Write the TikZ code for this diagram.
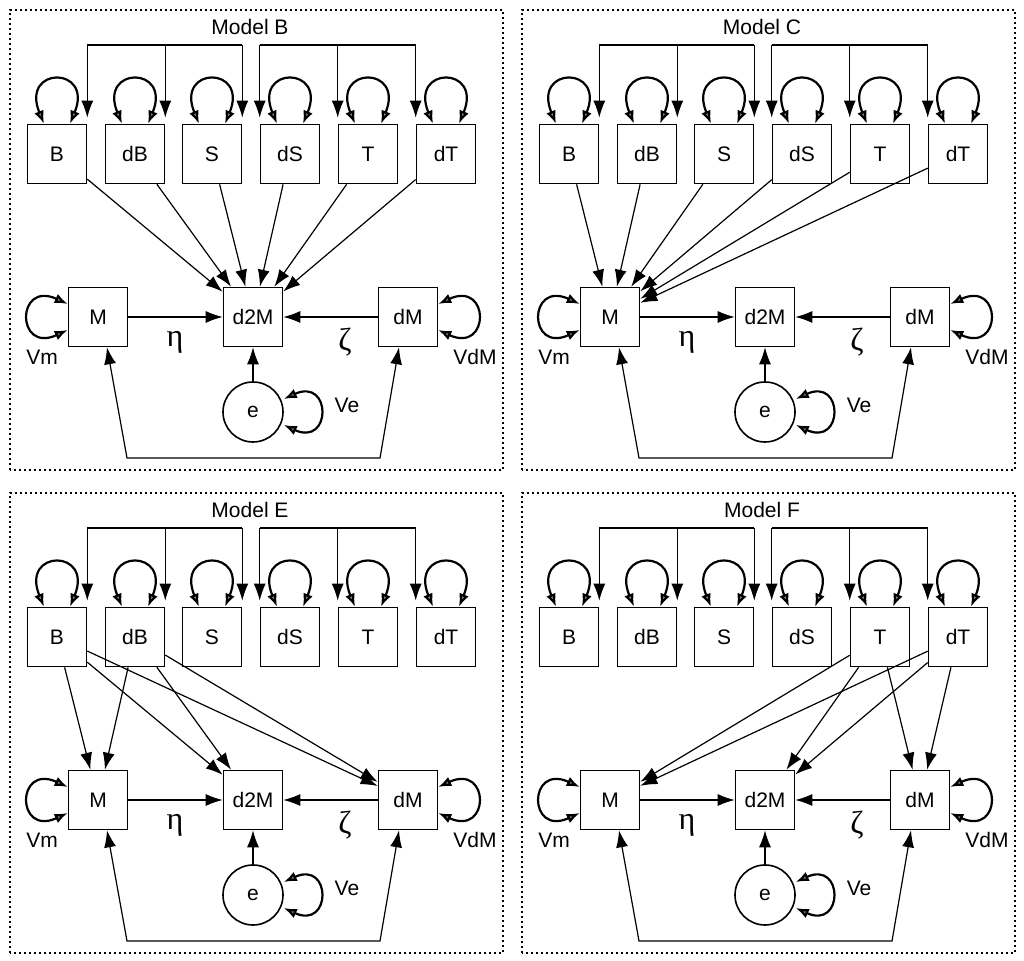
\documentclass[tikz,border=0pt]{standalone}
\usepackage{fontspec}
\setmainfont{Liberation Sans}
\newfontfamily\grk{Liberation Serif}
\usetikzlibrary{arrows.meta,calc}

\tikzset{
  box/.style={draw,line width=1.6pt,minimum size=59pt,inner sep=0pt,font=\fontsize{21}{24}\selectfont},
  lat/.style={draw,circle,line width=1.6pt,minimum size=60pt,inner sep=0pt,font=\fontsize{21}{24}\selectfont},
  arr/.style={-{Latex[length=17pt,width=12pt]},line width=1.2pt},
  dbl/.style={{Latex[length=17pt,width=12pt]}-{Latex[length=17pt,width=12pt]},line width=1.2pt},
  vloop/.style={{Latex[length=13pt,width=10pt,fill=gray]}-{Latex[length=13pt,width=10pt,fill=gray]},line width=2.2pt},
  lbl/.style={font=\fontsize{21}{24}\selectfont},
  frame/.style={line width=1.2pt,dash pattern=on 2pt off 3pt}
}

% one panel: x shift, y shift, title, paths
\newcommand\semPanel[4]{%
\begin{scope}[shift={(#1,#2)}]
\draw[frame] (10,490) rectangle (503,950);
\node[lbl] (title) at (250,933) {#3};
\coordinate (top) at (0,915);

\node[box] (B) at (57,806) {B};
\node[box] (dB) at (135,806) {dB};
\node[box] (S) at (212,806) {S};
\node[box] (dS) at (290,806) {dS};
\node[box] (T) at (368,806) {T};
\node[box] (dT) at (446,806) {dT};

\node[box] (M) at (98,643) {M};
\node[box] (d2M) at (253,643) {d2M};
\node[box] (dM) at (408,643) {dM};
\node[lat] (e) at (253,548) {e};

% variances
\foreach \v in {B,dB,S,dS,T,dT}
  \draw[vloop] ([xshift=-13pt]\v.north) .. controls +(-24,58) and +(24,58) .. ([xshift=13pt]\v.north);
\draw[vloop] ([yshift=13pt]M.west) .. controls +(-52,24) and +(-52,-24) .. ([yshift=-13pt]M.west);
\draw[vloop] ([yshift=13pt]dM.east) .. controls +(52,24) and +(52,-24) .. ([yshift=-13pt]dM.east);
\draw[vloop] ([yshift=13pt]e.east) .. controls +(48,22) and +(48,-22) .. ([yshift=-13pt]e.east);
\node[lbl] (Vm) at (42,603) {Vm};
\node[lbl] (VdM) at (475,603) {VdM};
\node[lbl] (Ve) at (347,555) {Ve};

% covariances among the covariates
\draw[line width=1.2pt] (B.north east |- top) -- (S.north east |- top);
\draw[line width=1.2pt] (dS.north west |- top) -- (dT.north west |- top);
\foreach \v in {B,dB,S}
  \draw[arr,shorten >=6pt] (\v.north east |- top) -- (\v.north east);
\foreach \v in {dS,T,dT}
  \draw[arr,shorten >=6pt] (\v.north west |- top) -- (\v.north west);

% dynamics
\draw[arr] (M) -- (d2M);
\draw[arr] (dM) -- (d2M);
\draw[arr] (e) -- (d2M);
\node[font=\grk\fontsize{32}{34}\selectfont] (eta) at (175,618) {η};
\node[font=\grk\fontsize{32}{34}\selectfont] (zeta) at (345,618) {ζ};
\coordinate (bl) at (127,502);
\coordinate (br) at (380,502);
\draw[dbl] ([xshift=9pt]M.south) -- (bl) -- (br) -- ([xshift=-9pt]dM.south);
#4
\end{scope}}

\begin{document}
\begin{tikzpicture}[x=1pt,y=1pt]
\useasboundingbox (0,0) rectangle (1024,960);

\semPanel{0}{0}{Model B}{%
  \foreach \v in {B,dB,S,dS,T,dT} \draw[arr] (\v) -- (d2M);}
\semPanel{512}{0}{Model C}{%
  \foreach \v in {B,dB,S,dS,T,dT} \draw[arr] (\v) -- (M);}
\semPanel{0}{-483}{Model E}{%
  \foreach \v in {B,dB} {\draw[arr] (\v) -- (M); \draw[arr] (\v) -- (d2M); \draw[arr] (\v) -- (dM);}}
\semPanel{512}{-483}{Model F}{%
  \foreach \v in {T,dT} {\draw[arr] (\v) -- (M); \draw[arr] (\v) -- (d2M); \draw[arr] (\v) -- (dM);}}

\end{tikzpicture}
\end{document}
